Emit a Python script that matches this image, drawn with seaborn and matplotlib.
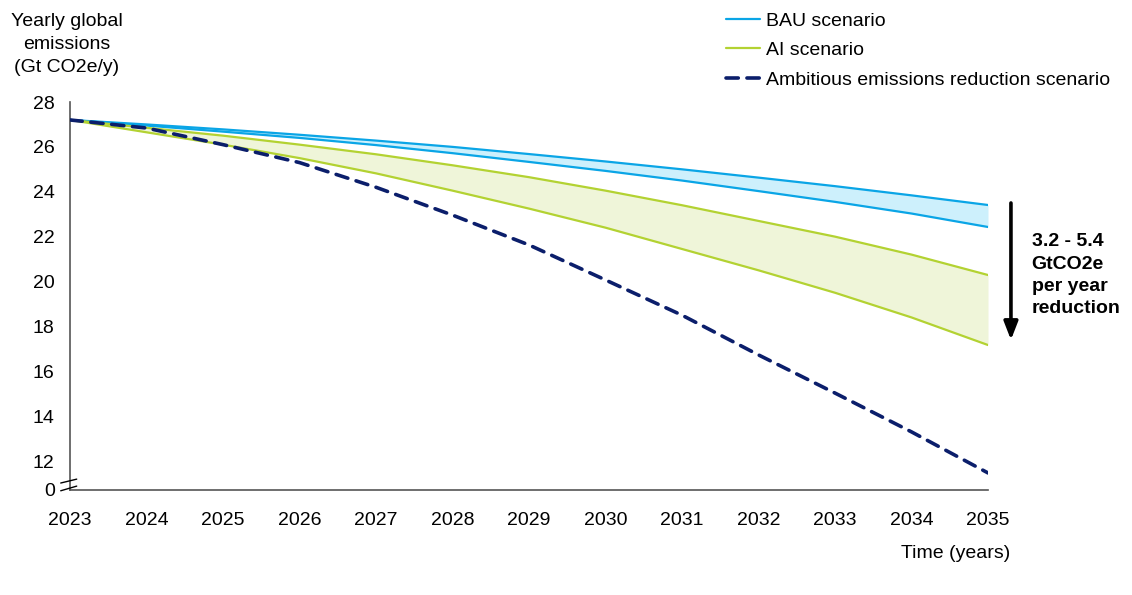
import matplotlib
matplotlib.use("Agg")
import matplotlib.pyplot as plt
import seaborn as sns
import pandas as pd
import numpy as np

years = list(range(2023, 2036))
bau_upper = [27.2, 27.0, 26.78, 26.54, 26.28, 26.0, 25.68, 25.35, 25.0, 24.63, 24.25, 23.84, 23.41]
bau_lower = [27.2, 26.95, 26.68, 26.4, 26.08, 25.72, 25.33, 24.93, 24.5, 24.03, 23.55, 23.03, 22.43]
ai_upper = [27.2, 26.85, 26.5, 26.1, 25.67, 25.18, 24.65, 24.05, 23.4, 22.7, 22.0, 21.2, 20.29]
ai_lower = [27.2, 26.65, 26.1, 25.5, 24.82, 24.05, 23.25, 22.4, 21.45, 20.5, 19.5, 18.4, 17.17]
ambitious = [27.2, 26.84, 26.1, 25.3, 24.2, 22.96, 21.63, 20.07, 18.5, 16.73, 15.03, 13.3, 11.47]
y_ticks = [12, 14, 16, 18, 20, 22, 24, 26, 28]

BAU_C = "#0aa5e6"
BAU_F = "#cdf0fc"
AI_C = "#b3d232"
AI_F = "#eff5d9"
AMB_C = "#0b1e6b"
FS = 14

sns.set_theme(style="white")
plt.rcParams['font.family'] = ['Liberation Sans', 'DejaVu Sans']
plt.rcParams['text.color'] = 'black'

fig = plt.figure(figsize=(11.32, 5.95), dpi=100)
ax = fig.add_axes([70/1132, 1-490/595, (988-70)/1132, (490-102)/595])

df = pd.DataFrame({"year": years, "bau_u": bau_upper, "bau_l": bau_lower,
                   "ai_u": ai_upper, "ai_l": ai_lower, "amb": ambitious})

ax.fill_between(df["year"], df["bau_l"], df["bau_u"], color=BAU_F, lw=0, zorder=1)
ax.fill_between(df["year"], df["ai_l"], df["ai_u"], color=AI_F, lw=0, zorder=1)
sns.lineplot(data=df, x="year", y="bau_u", color=BAU_C, lw=1.6, ax=ax, label="BAU scenario", zorder=3)
sns.lineplot(data=df, x="year", y="bau_l", color=BAU_C, lw=1.6, ax=ax, zorder=3)
sns.lineplot(data=df, x="year", y="ai_u", color=AI_C, lw=1.6, ax=ax, label="AI scenario", zorder=3)
sns.lineplot(data=df, x="year", y="ai_l", color=AI_C, lw=1.6, ax=ax, zorder=3)
sns.lineplot(data=df, x="year", y="amb", color=AMB_C, lw=2.6, ax=ax,
             label="Ambitious emissions reduction scenario", zorder=4)
ax.lines[-1].set_dashes((3.4, 2.4))
ax.lines[-1].set_dash_capstyle("round")

ymin = 10.71
ax.set_xlim(2023, 2035)
ax.set_ylim(ymin, 28)
ax.set_xticks(years)
ax.set_xticklabels([str(y) for y in years])
ax.set_yticks([ymin] + y_ticks)
ax.set_yticklabels(["0"] + [str(v) for v in y_ticks])
ax.set_xlabel("")
ax.set_ylabel("")

for s in ["top", "right"]:
    ax.spines[s].set_visible(False)
for s in ["left", "bottom"]:
    ax.spines[s].set_color("#555555")
    ax.spines[s].set_linewidth(1.2)
ax.tick_params(axis="both", direction="out", length=6, width=1.2, color="#555555",
               labelsize=FS, labelcolor="black", pad=5)
ax.tick_params(axis="x", pad=10)

# axis break marks
for y0, y1 in [(0.018, 0.028), (-0.002, 0.010)]:
    ax.plot([-0.0101, 0.0073], [y0, y1], transform=ax.transAxes,
            color="black", lw=1.0, clip_on=False, zorder=5)

# legend
h, l = ax.get_legend_handles_labels()
leg = ax.legend(h, l, loc="upper left", bbox_to_anchor=(726/1132, 1-12/595),
                bbox_transform=fig.transFigure, frameon=False, fontsize=FS,
                handlelength=1.75, handletextpad=0.3, labelspacing=0.62,
                borderpad=0, borderaxespad=0)
for t in leg.get_texts():
    t.set_color("black")

# annotations
fig.text(67/1132, 1-13/595, "Yearly global\nemissions\n(Gt CO2e/y)", ha="center", va="top",
         fontsize=FS, linespacing=1.45)
fig.text(1010/1132, 1-553/595, "Time (years)", ha="right", va="center", fontsize=FS)

ax.annotate("", xy=(2035.3, 17.4), xytext=(2035.3, 23.5),
            arrowprops=dict(arrowstyle="-|>,head_length=0.9,head_width=0.35", color="black", lw=2.6,
                            shrinkA=0, shrinkB=0),
            annotation_clip=False)
ax.text(2035.57, 20.28, "3.2 - 5.4\nGtCO2e\nper year\nreduction", ha="left", va="center",
        fontsize=FS, fontweight="bold", linespacing=1.42, clip_on=False)

fig.savefig("out.png", dpi=100)
